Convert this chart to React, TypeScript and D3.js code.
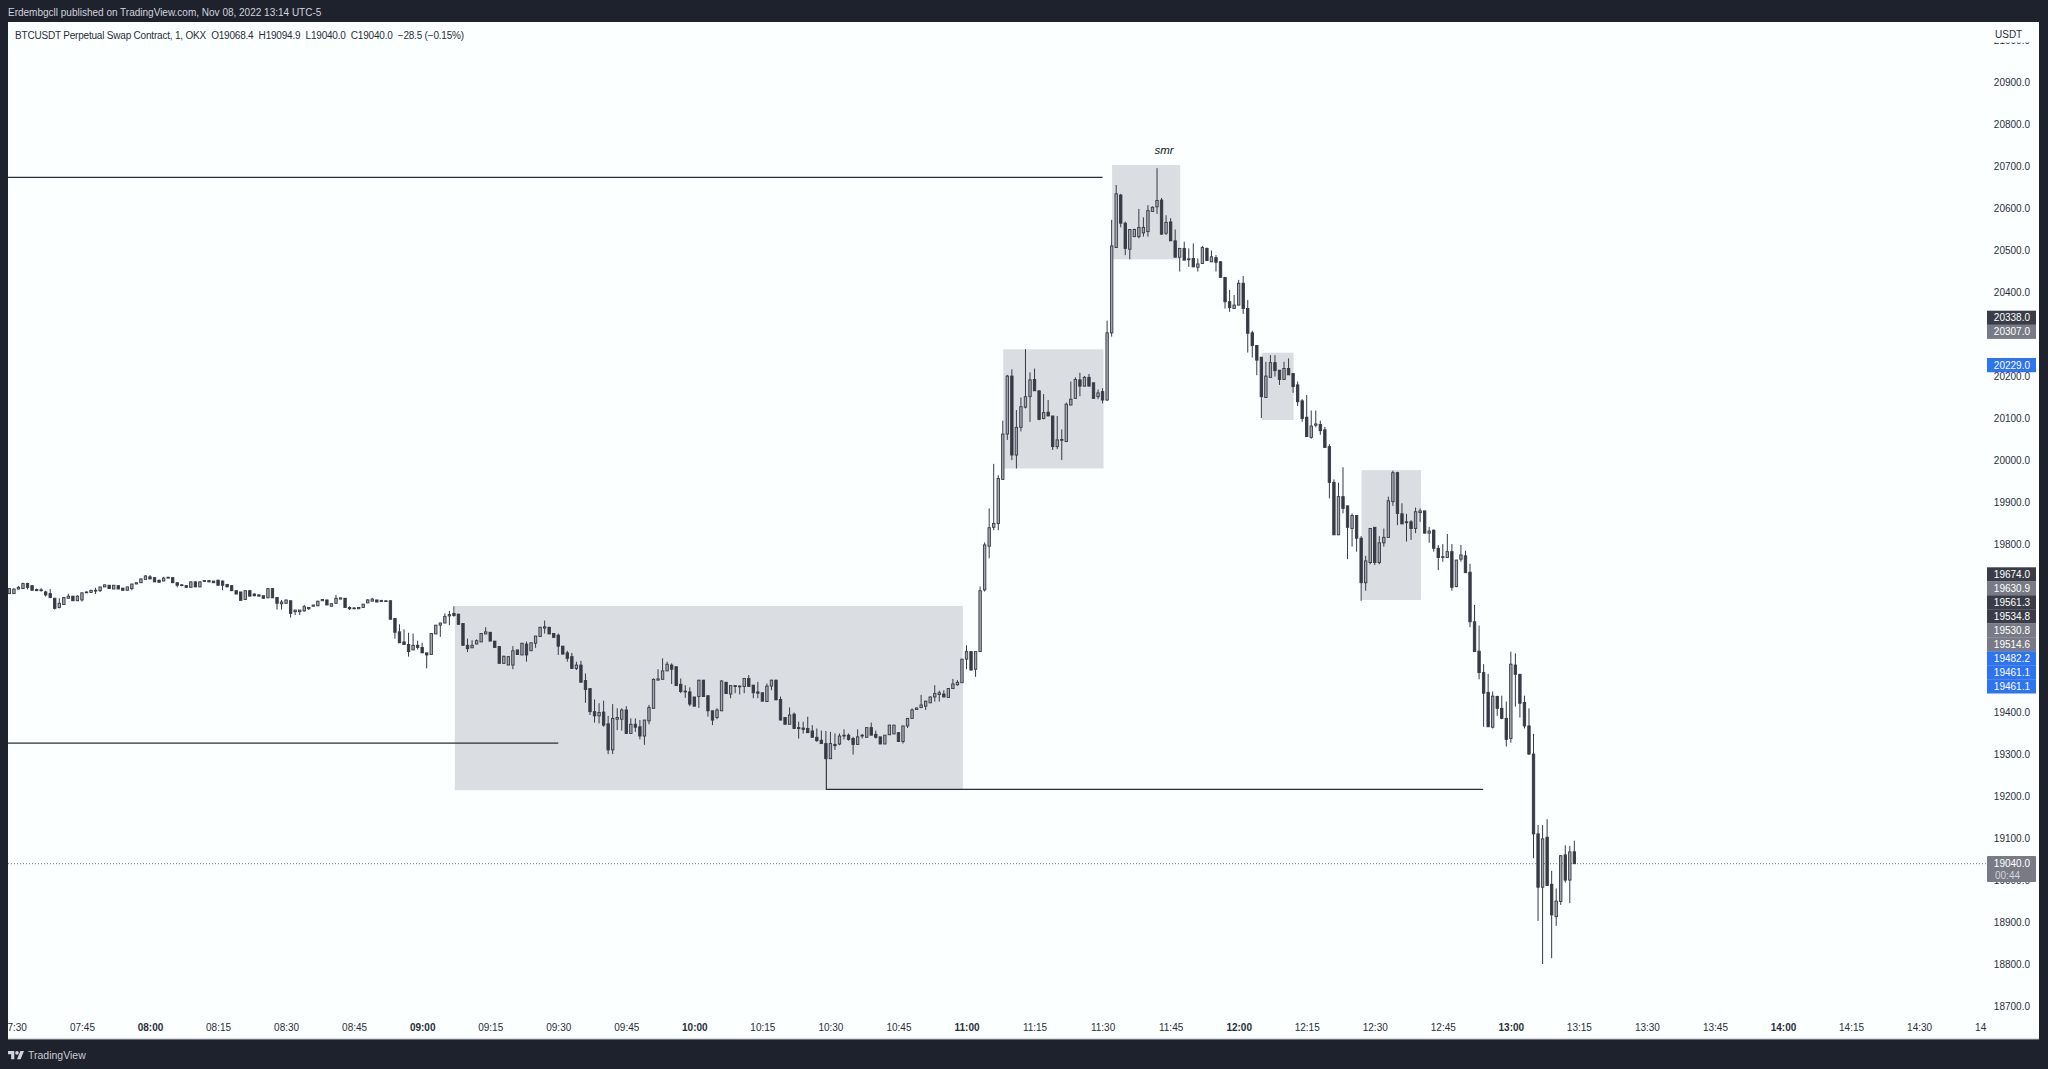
import React, { useEffect, useRef } from 'react';
import * as d3 from 'd3';

type Ohlc = [number, number, number, number];

// 1 minute bars, open high low close, first bar is 07:29
const bars07: Ohlc[] = [
  [19683,19696,19683,19695],[19683,19695,19683,19694],[19694,19701,19693,19698],[19695,19709,19695,19707],[19707,19709,19693,19698],
  [19702,19703,19691,19691],[19693,19695,19690,19690],[19692,19696,19688,19691],[19687,19690,19676,19680],[19683,19694,19672,19674],
  [19672,19673,19645,19648],[19650,19672,19648,19660],[19657,19675,19657,19674],[19672,19683,19672,19677],[19677,19677,19666,19666],
  [19666,19679,19666,19677],[19668,19685,19664,19685],[19685,19688,19685,19687],[19686,19692,19685,19691],[19690,19697,19682,19691],
  [19690,19699,19687,19699],[19699,19704,19699,19704],[19703,19703,19695,19695],[19694,19703,19694,19703],[19702,19702,19694,19694],
  [19696,19697,19691,19691],[19691,19699,19691,19699],[19695,19706,19691,19706],[19706,19709,19706,19709],[19709,19719,19709,19718],
  [19717,19727,19717,19725],
];
const bars08: Ohlc[] = [
  [19723,19727,19718,19718],[19721,19722,19711,19711],[19715,19716,19710,19710],[19713,19723,19713,19720],[19722,19723,19720,19720],
  [19721,19722,19709,19709],[19709,19709,19698,19703],[19704,19705,19701,19702],[19702,19702,19698,19698],[19698,19712,19697,19711],
  [19711,19712,19699,19699],[19699,19712,19699,19711],[19712,19715,19712,19714],[19714,19714,19710,19711],[19713,19713,19709,19709],
  [19715,19716,19703,19703],[19713,19714,19691,19703],[19705,19706,19699,19699],[19702,19702,19690,19690],[19690,19690,19682,19682],
  [19687,19687,19667,19667],[19669,19690,19669,19690],[19690,19692,19677,19677],[19682,19684,19677,19678],[19680,19681,19677,19677],
  [19678,19678,19671,19672],[19673,19695,19673,19695],[19695,19695,19673,19673],[19674,19674,19645,19660],[19659,19668,19645,19663],
  [19660,19668,19660,19668],[19666,19667,19626,19636],[19640,19644,19632,19644],[19640,19644,19632,19644],[19642,19656,19640,19652],
  [19647,19650,19644,19650],[19653,19656,19653,19656],[19654,19666,19654,19665],[19666,19669,19666,19669],[19668,19668,19656,19656],
  [19653,19660,19653,19659],[19660,19680,19660,19672],[19670,19673,19670,19673],[19672,19672,19650,19650],[19650,19653,19644,19647],
  [19649,19650,19646,19647],[19647,19650,19647,19650],[19650,19658,19650,19658],[19661,19670,19661,19668],[19665,19673,19665,19670],
  [19668,19668,19663,19663],[19664,19667,19664,19667],[19666,19667,19665,19666],[19666,19667,19622,19622],[19624,19624,19576,19591],
  [19592,19610,19566,19566],[19568,19598,19562,19562],[19562,19590,19533,19545],[19549,19588,19549,19560],[19560,19571,19550,19555],
];
const bars09: Ohlc[] = [
  [19555,19566,19542,19542],[19542,19542,19505,19537],[19538,19589,19538,19588],[19587,19608,19587,19608],[19608,19614,19580,19613],
  [19613,19636,19613,19629],[19630,19642,19608,19633],[19636,19653,19628,19631],[19634,19635,19610,19610],[19612,19612,19560,19560],
  [19560,19576,19544,19552],[19554,19572,19554,19560],[19563,19574,19563,19571],[19568,19588,19568,19588],[19587,19603,19587,19592],
  [19591,19591,19570,19570],[19570,19570,19555,19555],[19557,19557,19517,19517],[19517,19535,19517,19534],[19513,19533,19513,19533],
  [19513,19558,19503,19547],[19549,19549,19538,19538],[19537,19565,19537,19565],[19563,19569,19521,19537],[19547,19566,19547,19566],
  [19565,19582,19554,19582],[19581,19603,19581,19603],[19601,19619,19588,19604],[19603,19603,19587,19587],[19588,19588,19579,19579],
  [19584,19588,19537,19558],[19558,19558,19539,19539],[19542,19547,19521,19529],[19533,19542,19505,19505],[19505,19521,19501,19513],
  [19513,19523,19472,19472],[19476,19493,19423,19455],[19457,19457,19394,19402],[19402,19431,19376,19392],[19392,19422,19374,19400],
  [19401,19428,19366,19370],[19373,19392,19301,19311],[19311,19420,19301,19386],[19384,19410,19358,19388],[19384,19410,19357,19406],
  [19406,19415,19350,19350],[19350,19386,19350,19372],[19372,19386,19354,19365],[19366,19382,19336,19344],[19344,19382,19323,19382],
  [19380,19418,19372,19412],[19410,19481,19410,19479],[19477,19503,19477,19480],[19479,19529,19479,19499],[19499,19521,19499,19515],
  [19513,19517,19468,19503],[19509,19509,19464,19464],[19467,19481,19446,19450],[19451,19465,19435,19449],[19449,19460,19415,19420],
];
const bars10: Ohlc[] = [
  [19437,19437,19415,19415],[19438,19477,19411,19477],[19477,19477,19438,19438],[19440,19440,19390,19404],[19404,19404,19370,19382],
  [19388,19410,19384,19406],[19404,19477,19404,19475],[19472,19472,19445,19445],[19444,19464,19434,19464],[19464,19464,19446,19462],
  [19462,19464,19443,19463],[19462,19482,19446,19481],[19481,19489,19462,19462],[19465,19466,19434,19447],[19449,19473,19434,19446],
  [19447,19447,19427,19427],[19426,19469,19426,19463],[19463,19478,19453,19477],[19477,19478,19430,19430],[19431,19438,19382,19382],
  [19388,19388,19372,19372],[19372,19412,19372,19394],[19396,19400,19362,19362],[19364,19378,19338,19362],[19363,19378,19350,19360],
  [19362,19390,19352,19352],[19356,19370,19341,19341],[19341,19362,19330,19333],[19334,19357,19326,19326],[19326,19356,19290,19290],
  [19290,19354,19290,19326],[19324,19350,19311,19321],[19325,19350,19322,19344],[19344,19360,19336,19346],[19346,19350,19333,19336],
  [19338,19342,19300,19324],[19324,19360,19324,19342],[19344,19349,19338,19346],[19341,19364,19341,19364],[19364,19376,19346,19346],
  [19348,19357,19338,19341],[19342,19342,19325,19325],[19325,19346,19325,19346],[19347,19370,19347,19370],[19349,19370,19349,19370],
  [19352,19352,19331,19331],[19331,19368,19326,19368],[19368,19386,19363,19386],[19386,19410,19386,19406],[19407,19411,19407,19411],
  [19412,19442,19410,19418],[19415,19428,19406,19427],[19423,19438,19423,19437],[19437,19465,19426,19445],[19443,19452,19426,19447],
  [19444,19453,19436,19437],[19436,19458,19436,19457],[19457,19480,19457,19468],[19466,19477,19464,19472],[19471,19527,19471,19527],
];
const bars11: Ohlc[] = [
  [19527,19560,19503,19545],[19545,19545,19501,19501],[19503,19545,19485,19545],[19545,19700,19545,19690],[19692,19805,19688,19799],
  [19796,19886,19767,19840],[19841,19992,19834,19850],[19850,19965,19834,19957],[19955,20095,19955,20063],[20063,20204,20049,20201],
  [20201,20217,20001,20013],[20013,20120,19981,20079],[20079,20150,20069,20128],[20127,20265,20124,20152],[20152,20210,20092,20192],
  [20193,20219,20166,20166],[20166,20166,20096,20098],[20100,20158,20098,20114],[20115,20144,20106,20106],[20106,20106,20025,20033],
  [20033,20106,20027,20049],[20049,20074,20001,20050],[20045,20138,20045,20134],[20132,20188,20132,20146],[20148,20198,20148,20193],
  [20192,20209,20153,20177],[20177,20201,20177,20198],[20198,20206,20177,20177],[20185,20185,20148,20148],[20152,20169,20146,20161],
  [20164,20172,20136,20144],[20144,20333,20142,20304],[20304,20573,20295,20511],[20507,20656,20507,20635],[20632,20635,20555,20565],
  [20565,20569,20489,20505],[20503,20550,20479,20550],[20533,20552,20533,20550],[20533,20599,20529,20555],[20542,20579,20533,20555],
  [20545,20608,20533,20595],[20593,20605,20593,20603],[20604,20696,20587,20619],[20620,20625,20537,20539],[20541,20584,20537,20567],
  [20568,20577,20523,20523],[20523,20550,20484,20484],[20484,20505,20450,20505],[20505,20521,20477,20477],[20480,20505,20461,20479],
  [20481,20517,20461,20461],[20460,20481,20450,20468],[20469,20511,20469,20507],[20505,20507,20476,20476],[20473,20500,20473,20485],
  [20483,20489,20450,20472],[20473,20475,20436,20436],[20436,20436,20362,20378],[20378,20406,20354,20364],[20362,20394,20362,20370],
];
const bars12: Ohlc[] = [
  [20370,20430,20370,20422],[20422,20439,20349,20362],[20362,20382,20257,20303],[20304,20309,20245,20274],[20274,20274,20203,20239],
  [20246,20246,20101,20152],[20150,20235,20150,20201],[20198,20251,20198,20233],[20233,20251,20200,20214],[20215,20215,20180,20193],
  [20193,20235,20193,20219],[20219,20243,20204,20204],[20207,20207,20161,20176],[20180,20188,20130,20140],[20142,20146,20092,20100],
  [20103,20156,20057,20057],[20055,20119,20052,20082],[20084,20119,20079,20087],[20086,20095,20061,20071],[20073,20080,20031,20031],
  [20033,20039,19910,19948],[19948,19955,19823,19823],[19823,19947,19823,19914],[19914,19984,19874,19886],[19892,19892,19765,19841],
  [19838,19874,19795,19869],[19869,19869,19783,19815],[19815,19820,19666,19709],[19709,19773,19690,19761],[19757,19838,19753,19838],
  [19841,19841,19751,19757],[19757,19820,19753,19804],[19804,19838,19795,19817],[19817,19914,19817,19904],[19902,19976,19892,19971],
  [19971,19973,19846,19874],[19873,19898,19849,19849],[19852,19873,19807,19854],[19854,19858,19811,19838],[19838,19888,19827,19878],
  [19876,19886,19854,19880],[19880,19880,19827,19827],[19827,19842,19804,19832],[19834,19836,19783,19791],[19791,19799,19739,19769],
  [19769,19801,19759,19771],[19769,19825,19769,19783],[19783,19801,19690,19698],[19700,19763,19698,19763],[19765,19799,19759,19775],
  [19773,19785,19733,19733],[19734,19754,19603,19616],[19616,19656,19545,19545],[19546,19607,19479,19495],[19495,19515,19366,19446],
  [19448,19492,19366,19366],[19365,19450,19362,19439],[19438,19440,19392,19410],[19410,19440,19384,19386],[19386,19426,19319,19336],
];
const bars13: Ohlc[] = [
  [19338,19545,19328,19515],[19513,19541,19414,19491],[19491,19491,19388,19422],[19424,19440,19362,19368],[19368,19410,19299,19301],
  [19301,19349,19053,19111],[19111,19132,18904,18984],[18984,19132,18801,19099],[19103,19146,18988,18988],[18991,19023,18815,18918],
  [18914,18981,18892,18951],[18950,19060,18942,19059],[19061,19084,18995,19001],[19001,19082,18946,19068],[19068.4,19094.9,19040,19040],
];
const firstBarMinute = 7 * 60 + 29;

const timeLabels = ['07:30','07:45','08:00','08:15','08:30','08:45','09:00','09:15','09:30','09:45','10:00','10:15','10:30','10:45','11:00','11:15','11:30','11:45','12:00','12:15','12:30','12:45','13:00','13:15','13:30','13:45','14:00','14:15','14:30','14:45'];
const priceTicks = [21000,20900,20800,20700,20600,20500,20400,20300,20200,20100,20000,19900,19800,19700,19600,19500,19400,19300,19200,19100,19000,18900,18800,18700];

// shaded boxes: from minute, to minute, top price, bottom price
const boxFrom = [547.2, 668.1, 692.1, 725.1, 747.1];
const boxTo = [659.2, 690.2, 707.1, 732.1, 760.2];
const boxTop = [19653.5, 20264.7, 20703.5, 20256.6, 19977];
const boxBottom = [19215, 19981, 20479, 20096.4, 19668];

const upperLabels = ['20338.0', '20307.0', '20229.0'];
const upperLabelKinds = ['dark', 'gray', 'blue'];
const stackedLabels = ['19674.0','19630.9','19561.3','19534.8','19530.8','19514.6','19482.2','19461.1','19461.1'];
const stackedLabelKinds = ['dark','gray','dark','dark','gray','gray','blue','blue','blue'];

const lastPrice = 19040;
const topLinePrice = 20674;
const leftLinePrice = 19327;
const sweepLinePrice = 19217;

const labelFill: Record<string, string> = { dark: '#3a3d48', gray: '#787b86', blue: '#2e74f0' };
const ink = '#363a45';
const textInk = '#2a2e39';
const font = '"Liberation Sans", sans-serif';
const fontSize = 10;

const App: React.FC = () => {
  const ref = useRef<SVGSVGElement | null>(null);

  useEffect(() => {
    document.body.style.margin = '0';
    const svg = d3.select(ref.current);
    svg.selectAll('*').remove();

    const width = 2048;
    const height = 1069;
    const plot = { left: 8, top: 22, right: 2039, bottom: 1039, scale: 1987 };

    const bars = [...bars07, ...bars08, ...bars09, ...bars10, ...bars11, ...bars12, ...bars13];
    const toMinute = (s: string) => +s.slice(0, 2) * 60 + +s.slice(3);
    const x = d3.scaleLinear().domain([480, 840]).range([150, 1783]);
    const y = d3.scaleLinear().domain([20900, 18700]).range([82.5, 1006.5]);

    svg.append('rect').attr('width', width).attr('height', height).attr('fill', '#1e222d');
    svg.append('rect')
      .attr('x', plot.left).attr('y', plot.top)
      .attr('width', plot.right - plot.left).attr('height', plot.bottom - plot.top)
      .attr('fill', '#fbffff');
    svg.append('line')
      .attr('x1', plot.left).attr('x2', plot.right).attr('y1', plot.bottom).attr('y2', plot.bottom)
      .attr('stroke', '#b8bbc2').attr('stroke-width', 1);

    const defs = svg.append('defs');
    defs.append('clipPath').attr('id', 'pane').append('rect')
      .attr('x', plot.left).attr('y', plot.top).attr('width', plot.scale - plot.left).attr('height', plot.bottom - plot.top);
    defs.append('clipPath').attr('id', 'scale').append('rect')
      .attr('x', plot.scale).attr('y', 42.5).attr('width', plot.right - plot.scale).attr('height', 1000);

    // boxes
    const pane = svg.append('g').attr('clip-path', 'url(#pane)');
    pane.append('g').attr('fill', '#dadde2')
      .selectAll('rect').data(boxFrom).join('rect')
      .attr('x', d => x(d))
      .attr('width', (d, i) => x(boxTo[i]) - x(d))
      .attr('y', (d, i) => y(boxTop[i]))
      .attr('height', (d, i) => y(boxBottom[i]) - y(boxTop[i]));

    // last price line
    pane.append('line')
      .attr('x1', plot.left).attr('x2', plot.scale).attr('y1', y(lastPrice)).attr('y2', y(lastPrice))
      .attr('stroke', '#787b86').attr('stroke-width', 1).attr('stroke-dasharray', '1 2');

    // hand drawn levels
    const levels = pane.append('g').attr('fill', 'none').attr('stroke', '#2a2e39').attr('stroke-width', 1.1);
    const levelLine = d3.line<[number, number]>().x(d => x(d[0])).y(d => y(d[1]));
    const startMinute = x.invert(plot.left);
    levels.append('path').attr('d', levelLine([[startMinute, topLinePrice], [690, topLinePrice]]));
    levels.append('path').attr('d', levelLine([[startMinute, leftLinePrice], [570, leftLinePrice]]));
    levels.append('path').attr('d', levelLine([[629.1, 19290], [629.1, sweepLinePrice], [773.9, sweepLinePrice]]));

    // candles
    const candles = pane.append('g').selectAll('g').data(bars).join('g')
      .attr('transform', (d, i) => `translate(${x(firstBarMinute + i)},0)`);
    candles.append('line')
      .attr('y1', d => y(d[1])).attr('y2', d => y(d[2]))
      .attr('stroke', ink).attr('stroke-width', 1);
    candles.append('rect')
      .attr('x', -1.2).attr('width', 2.4)
      .attr('y', d => y(Math.max(d[0], d[3])))
      .attr('height', d => Math.max(y(Math.min(d[0], d[3])) - y(Math.max(d[0], d[3])), 0.8))
      .attr('fill', d => (d[3] >= d[0] ? '#a4a7ae' : ink))
      .attr('stroke', ink).attr('stroke-width', 0.9);

    pane.append('text')
      .attr('x', 1164).attr('y', 154)
      .attr('text-anchor', 'middle')
      .attr('font-family', font).attr('font-size', 11.5).attr('font-style', 'italic')
      .attr('fill', '#131722')
      .text('smr');

    // time axis
    const timeAxis = svg.append('g')
      .attr('clip-path', 'url(#pane)')
      .append('g')
      .attr('transform', 'translate(0,1021)')
      .call(d3.axisBottom(x)
        .tickValues(timeLabels.map(toMinute))
        .tickSize(0)
        .tickFormat((d, i) => timeLabels[i]));
    timeAxis.select('.domain').remove();
    timeAxis.selectAll('text')
      .attr('font-family', font).attr('font-size', fontSize)
      .attr('fill', textInk)
      .attr('font-weight', (d: any) => (d % 60 === 0 ? 700 : 400));

    // price axis
    const priceAxis = svg.append('g')
      .attr('clip-path', 'url(#scale)')
      .append('g')
      .attr('transform', 'translate(2030,0)')
      .call(d3.axisLeft(y).tickValues(priceTicks).tickSize(0).tickPadding(0).tickFormat(d3.format('.1f')));
    priceAxis.select('.domain').remove();
    priceAxis.selectAll('text')
      .attr('font-family', font).attr('font-size', fontSize).attr('fill', textInk);

    // price labels
    const drawLabels = (labels: string[], kinds: string[], top: number) => {
      const g = svg.append('g');
      g.selectAll('rect').data(labels).join('rect')
        .attr('x', 1987).attr('width', 49)
        .attr('y', (d, i) => top + i * 14).attr('height', 14.2)
        .attr('fill', (d, i) => labelFill[kinds[i]]);
      g.selectAll('text').data(labels).join('text')
        .attr('x', 2030).attr('y', (d, i) => top + i * 14 + 7)
        .attr('dy', '0.35em')
        .attr('text-anchor', 'end')
        .attr('font-family', font).attr('font-size', fontSize).attr('fill', '#ffffff')
        .text(d => d);
    };
    drawLabels(upperLabels.slice(0, 2), upperLabelKinds.slice(0, 2), 310.7);
    drawLabels(upperLabels.slice(2), upperLabelKinds.slice(2), 358);
    drawLabels(stackedLabels, stackedLabelKinds, 567.3);

    svg.append('rect').attr('x', 1987).attr('y', 856).attr('width', 49).attr('height', 26).attr('rx', 1).attr('fill', labelFill.gray);
    const lastText = svg.append('g').attr('font-family', font).attr('font-size', fontSize);
    lastText.append('text').attr('x', 2030).attr('y', 866.5).attr('text-anchor', 'end').attr('fill', '#ffffff').text(d3.format('.1f')(lastPrice));
    lastText.append('text').attr('x', 1995).attr('y', 878.5).attr('fill', '#d1d4dc').text('00:44');

    svg.append('text')
      .attr('x', 1995).attr('y', 37.5)
      .attr('font-family', font).attr('font-size', fontSize).attr('fill', textInk)
      .text('USDT');

    // titles
    svg.append('text')
      .attr('x', 8).attr('y', 16)
      .attr('font-family', font).attr('font-size', fontSize).attr('fill', '#d1d4dc')
      .text('Erdembgcll published on TradingView.com, Nov 08, 2022 13:14 UTC-5');
    svg.append('text')
      .attr('x', 15).attr('y', 38.5)
      .attr('font-family', font).attr('font-size', fontSize).attr('fill', textInk)
      .attr('letter-spacing', -0.2)
      .style('white-space', 'pre')
      .text('BTCUSDT Perpetual Swap Contract, 1, OKX  O19068.4  H19094.9  L19040.0  C19040.0  \u221228.5 (\u22120.15%)');

    // footer logo
    const logo = svg.append('g').attr('transform', 'translate(8,1049.3) scale(0.45)').attr('fill', '#d1d4dc');
    logo.append('path').attr('d', 'M14 22H7V11H0V4h14v18zM28 22h-8l7.5-18h8L28 22z');
    logo.append('circle').attr('cx', 20).attr('cy', 8).attr('r', 4);
    svg.append('text')
      .attr('x', 28).attr('y', 1059)
      .attr('font-family', font).attr('font-size', 10.5).attr('fill', '#c8cbd3')
      .text('TradingView');
  }, []);

  return <svg ref={ref} width={2048} height={1069} viewBox="0 0 2048 1069" style={{ position: 'absolute', left: 0, top: 0, display: 'block' }}></svg>;
};

export default App;
